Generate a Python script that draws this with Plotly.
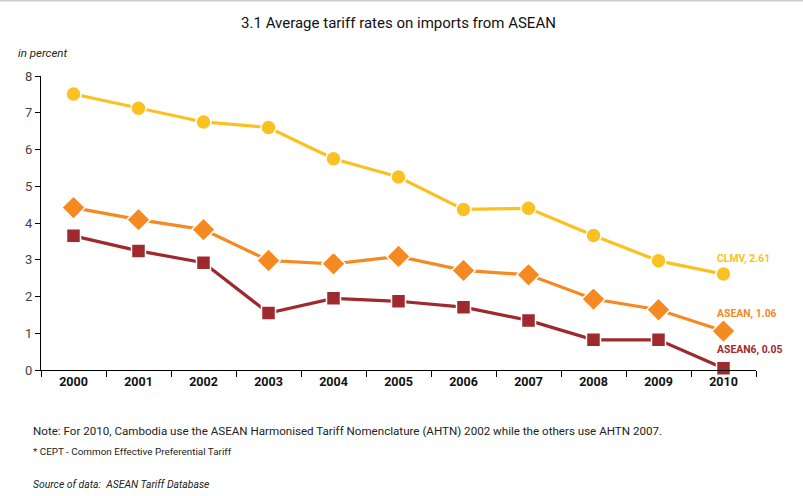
import plotly.graph_objects as go

years = ["2000", "2001", "2002", "2003", "2004", "2005", "2006", "2007", "2008", "2009", "2010"]
clmv = [7.51, 7.12, 6.75, 6.60, 5.75, 5.25, 4.37, 4.40, 3.66, 2.97, 2.61]
asean = [4.42, 4.09, 3.82, 2.98, 2.89, 3.09, 2.71, 2.59, 1.93, 1.64, 1.06]
asean6 = [3.65, 3.24, 2.92, 1.55, 1.95, 1.87, 1.71, 1.35, 0.82, 0.82, 0.05]
yticks = [0, 1, 2, 3, 4, 5, 6, 7, 8]

C_CLMV = "#F9C222"
C_ASEAN = "#F58A23"
C_ASEAN6 = "#9E2A2F"
FONT = "Roboto, sans-serif"

fig = go.Figure()
series = [
    ("CLMV", clmv, C_CLMV, "circle", 15, 7),
    ("ASEAN", asean, C_ASEAN, "diamond", 18, 9),
    ("ASEAN6", asean6, C_ASEAN6, "square", 14, 10),
]
last = len(years) - 1
for name, vals, col, sym, sz, ysh in series:
    fig.add_trace(go.Scatter(
        x=years, y=vals, name=name, mode="lines+markers",
        line=dict(color=col, width=3.2),
        marker=dict(symbol=sym, size=sz, color=col, line=dict(color="white", width=1.5)),
        cliponaxis=False, showlegend=False,
    ))
    fig.add_annotation(
        x=last, y=vals[-1], xref="x", yref="y",
        text=f"<b>{name}, {vals[-1]:.2f}</b>", showarrow=False,
        xanchor="left", yanchor="bottom", xshift=-9, yshift=ysh,
        font=dict(family=FONT, size=10.4, color=col),
    )

fig.update_layout(
    width=803, height=496,
    margin=dict(l=41, r=47, t=76, b=126),
    paper_bgcolor="white", plot_bgcolor="white",
    font=dict(family=FONT, color="#222"),
    title=dict(text="3.1 Average tariff rates on imports from ASEAN",
               x=0.5, xref="paper", xanchor="center", y=0.955, yanchor="middle",
               font=dict(family=FONT, size=15, color="#111")),
    xaxis=dict(type="category", range=[-0.5, 10.5], showline=True, linecolor="black", linewidth=1.2,
               ticks="outside", tickson="boundaries", ticklen=6, tickcolor="black",
               showgrid=False, zeroline=False,
               tickfont=dict(family=FONT, size=12.5, color="#111"), tickprefix="<b>", ticksuffix="</b>"),
    yaxis=dict(range=[0, 8], tickvals=yticks, showline=True, linecolor="black", linewidth=1.2,
               ticks="outside", ticklen=5, tickcolor="black", showgrid=False, zeroline=False,
               tickfont=dict(family=FONT, size=13, color="#444")),
)

fig.add_annotation(text="<i>in percent</i>", xref="paper", yref="paper", x=-0.035, y=1.078,
                   xanchor="left", yanchor="middle", showarrow=False,
                   font=dict(family=FONT, size=11.5, color="#222"))
fig.add_annotation(text="Note: For 2010, Cambodia use the ASEAN Harmonised Tariff Nomenclature (AHTN) 2002 while the others use AHTN 2007.",
                   xref="paper", yref="paper", x=(31-41)/715, y=-(430-369.5)/293.5,
                   xanchor="left", yanchor="middle", showarrow=False,
                   font=dict(family=FONT, size=11.6, color="#222"))
fig.add_annotation(text="* CEPT - Common Effective Preferential Tariff",
                   xref="paper", yref="paper", x=(31-41)/715, y=-(451-369.5)/293.5,
                   xanchor="left", yanchor="middle", showarrow=False,
                   font=dict(family=FONT, size=9.9, color="#222"))
fig.add_annotation(text="<i>Source of data:  ASEAN Tariff Database</i>",
                   xref="paper", yref="paper", x=(31-41)/715, y=-(484-369.5)/293.5,
                   xanchor="left", yanchor="middle", showarrow=False,
                   font=dict(family=FONT, size=10.4, color="#222"))
fig.add_shape(type="line", xref="paper", yref="paper", x0=-0.06, x1=1.07, y0=1.258, y1=1.258,
              line=dict(color="#cccccc", width=2.5))

fig.write_html("out.html")
